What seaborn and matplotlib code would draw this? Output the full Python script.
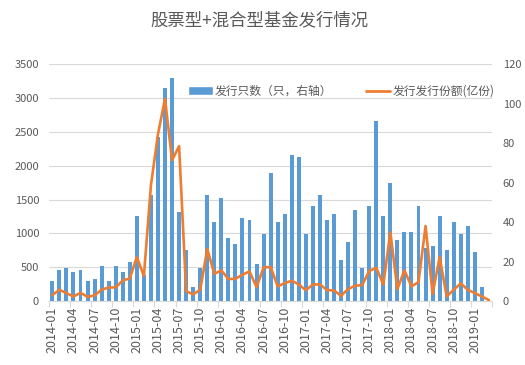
import numpy as np
import pandas as pd
import matplotlib
matplotlib.use('Agg')
import matplotlib.pyplot as plt
import seaborn as sns
from matplotlib.patches import Patch
from matplotlib.lines import Line2D

# Monthly data, 2014-01 .. 2019-03
months = pd.date_range('2014-01-01', '2019-03-01', freq='MS').strftime('%Y-%m').tolist()

# number of new funds (right axis)
fund_counts = [10, 16, 17, 15, 16, 10, 11, 18, 10, 18, 15, 20,
               43, 13, 54, 83, 108, 113, 45, 26, 7, 17, 54, 40,
               52, 32, 29, 42, 41, 19, 34, 65, 40, 44, 74, 73,
               34, 48, 54, 41, 44, 21, 30, 46, 17, 48, 91, 43,
               60, 31, 35, 35, 48, 27, 28, 43, 26, 40, 34, 38,
               25, 7, 0]

# issued shares, 100m units (left axis)
issue_shares = [89, 168, 118, 69, 123, 64, 84, 168, 202, 202, 306, 335,
                651, 370, 1712, 2467, 2990, 2082, 2289, 148, 99, 168, 770, 404,
                454, 326, 330, 390, 439, 207, 498, 503, 217, 266, 301, 247,
                160, 247, 247, 163, 158, 79, 178, 227, 237, 444, 493, 247,
                1016, 178, 454, 217, 281, 1110, 108, 651, 69, 168, 262, 168,
                118, 69, 15]

title = '股票型+混合型基金发行情况'
bar_label = '发行只数（只，右轴）'
line_label = '发行发行份额(亿份)'

bar_color = '#5B9BD5'
line_color = '#ED7D31'
text_color = '#595959'
grid_color = '#D9D9D9'

sns.set_style('white')
plt.rcParams['font.family'] = ['Noto Sans CJK SC', 'DejaVu Sans']

df = pd.DataFrame({'month': months, 'count': fund_counts, 'shares': issue_shares})
df['pos'] = np.arange(len(df))

fig = plt.figure(figsize=(5.25, 3.65), dpi=100)
ax_bar = fig.add_axes([0.093, 0.175, 0.845, 0.649])
ax_line = ax_bar.twinx()

# bars on the primary axes so the line sits on top of them
sns.barplot(data=df, x='month', y='count', color=bar_color, width=0.56,
            saturation=1, linewidth=0, ax=ax_bar)
sns.lineplot(data=df, x='pos', y='shares', color=line_color, linewidth=1.9,
             ax=ax_line)

n = len(df)
ax_bar.set_xlim(-0.5, n - 0.5)
ax_bar.set_ylim(0, 120)
ax_line.set_ylim(0, 3500)

# gridlines follow the left (shares) axis
for v in range(0, 3501, 500):
    ax_bar.axhline(v * 120 / 3500, color=grid_color, lw=0.8, zorder=0)

ax_bar.yaxis.tick_right()
ax_bar.set_yticks(range(0, 121, 20))
ax_line.yaxis.tick_left()
ax_line.set_yticks(range(0, 3501, 500))

ax_bar.set_xticks(range(0, n, 3))
ax_bar.set_xticklabels(months[::3], rotation=90)
ax_bar.set_xticks(np.arange(-0.5, n, 3), minor=True)

ax_bar.tick_params(axis='x', which='major', length=0, pad=4, labelsize=9,
                   labelcolor=text_color)
ax_bar.tick_params(axis='x', which='minor', bottom=True, length=4,
                   color=grid_color, width=0.8)
ax_bar.tick_params(axis='y', length=0, pad=7.5, labelsize=8, labelcolor=text_color)
ax_line.tick_params(axis='y', length=0, pad=7, labelsize=8, labelcolor=text_color)

for ax in (ax_bar, ax_line):
    ax.set_xlabel('')
    ax.set_ylabel('')
    for s in ax.spines.values():
        s.set_visible(False)
ax_bar.spines['bottom'].set_visible(True)
ax_bar.spines['bottom'].set_color(grid_color)

handles = [Patch(facecolor=bar_color, label=bar_label),
           Line2D([0], [0], color=line_color, lw=2, label=line_label)]
fig.legend(handles=handles, loc='center', bbox_to_anchor=(0.65, 0.75), ncol=2,
           frameon=False, fontsize=8.5, handlelength=2.1, handletextpad=0.2,
           columnspacing=2.8, labelcolor=text_color)

fig.text(0.495, 0.945, title, ha='center', va='center', fontsize=12.5,
         color=text_color)

fig.savefig('out.png', dpi=100)
